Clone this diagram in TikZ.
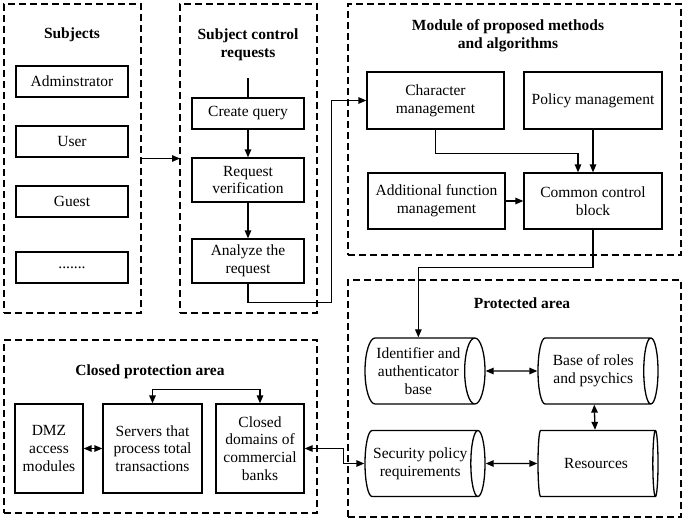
\documentclass[tikz,border=0pt]{standalone}
\usepackage{fontspec}
\setmainfont{Liberation Serif}
\usetikzlibrary{arrows.meta,shapes.geometric}
\newcommand{\fsz}{\fontsize{15.5}{17.7}\selectfont}
\begin{document}
\begin{tikzpicture}[x=1pt,y=-1pt,
  area/.style={draw, dash pattern=on 7pt off 4pt, line width=1.5pt, inner sep=0pt, outer sep=0pt},
  box/.style={draw, line width=1.3pt, align=center, inner sep=1pt, font=\fsz},
  cyl/.style={draw, cylinder, aspect=0.42, line width=1.3pt, align=center, font=\fsz, inner sep=1pt, anchor=shape center},
  ttl/.style={font=\fsz\bfseries, align=center},
  arr/.style={line width=1.3pt, -{Triangle[length=8pt,width=6.5pt]}},
  darr/.style={line width=1.3pt, {Triangle[length=8pt,width=6.5pt]}-{Triangle[length=8pt,width=6.5pt]}},
]
\useasboundingbox (0,0) rectangle (685,519);

% areas
\node[area, minimum width=137pt, minimum height=309pt] (subj) at (72.5,158.5) {};
\node[area, minimum width=137pt, minimum height=309pt] (ctrl) at (248.5,158.5) {};
\node[area, minimum width=333pt, minimum height=251pt] (mod) at (514.5,129.5) {};
\node[area, minimum width=333pt, minimum height=237pt] (prot) at (514.5,398.5) {};
\node[area, minimum width=313pt, minimum height=173pt] (closed) at (160.5,426.5) {};

% titles
\node[ttl] (tsubj) at (72,35) {Subjects};
\node[ttl] (tctrl) at (248,44.5) {Subject control\\requests};
\node[ttl] (tmod) at (508,36) {Module of proposed methods\\and algorithms};
\node[ttl] (tprot) at (522,303) {Protected area};
\node[ttl] (tclosed) at (150,372) {Closed protection area};

% subjects
\node[box, minimum width=112pt, minimum height=31pt] (adm) at (72,81.5) {Adminstrator};
\node[box, minimum width=112pt, minimum height=31pt] (usr) at (72,141.5) {User};
\node[box, minimum width=112pt, minimum height=31pt] (gst) at (72,201.5) {Guest};
\node[box, minimum width=112pt, minimum height=31pt] (dots) at (72,267.5) {.......};

% control requests
\coordinate (cqtop) at (248,78);
\node[box, minimum width=112pt, minimum height=31pt] (cq) at (248,113.5) {Create query};
\node[box, minimum width=112pt, minimum height=44pt] (rv) at (248,180) {Request\\verification};
\node[box, minimum width=112pt, minimum height=44pt] (an) at (248,261) {Analyze the\\request};

% module
\node[box, minimum width=137pt, minimum height=57pt] (char) at (435.5,100.5) {Character\\management};
\node[box, minimum width=138pt, minimum height=57pt] (pol) at (593,100.5) {Policy management};
\node[box, minimum width=137pt, minimum height=56pt] (add) at (436.5,201) {Additional function\\management};
\node[box, minimum width=138pt, minimum height=56pt] (com) at (593,201) {Common control\\block};

% protected
\node[cyl, minimum height=120pt, minimum width=66pt] (idb) at (425,371) {Identifier and\\authenticator\\base};
\node[cyl, minimum height=120pt, minimum width=66pt] (roles) at (598,371) {Base of roles\\and psychics};
\node[cyl, minimum height=120pt, minimum width=66pt] (sec) at (425,463.5) {Security policy\\requirements};
\node[cyl, minimum height=120pt, minimum width=66pt] (res) at (598,463.5) {Resources};

% closed
\node[box, minimum width=68pt, minimum height=89pt] (dmz) at (49,448.5) {DMZ\\access\\modules};
\node[box, minimum width=99pt, minimum height=89pt] (srv) at (152.5,448.5) {Servers that\\process total\\transactions};
\node[box, minimum width=88pt, minimum height=89pt] (cd) at (260,448.5) {Closed\\domains of\\commercial\\banks};

% connectors
\draw[arr] (subj) -- (ctrl);
\draw[line width=1.3pt] (cqtop) -- (cq);
\draw[arr] (cq) -- (rv);
\draw[arr] (rv) -- (an);
\draw[arr] (an.south) -- ++(0,19) -| ([xshift=-35pt]char.west) -- (char.west);
\draw[arr] (char.south) -- ++(0,24) -| ([xshift=-15pt]com.north);
\draw[arr] (pol) -- (com);
\draw[arr] (add) -- (com);
\draw[arr] (com.south) -- ++(0,38) -| (idb.north);
\draw[darr] (idb) -- (roles);
\draw[darr] (roles) -- (res);
\draw[darr] (sec) -- (res);
\draw[darr] (dmz) -- (srv);
\draw[darr] (srv.north) -- ++(0,-14) -| (cd.north);
\draw[darr] (cd.east) -- ++(39,0) |- (sec.west);
\end{tikzpicture}
\end{document}
